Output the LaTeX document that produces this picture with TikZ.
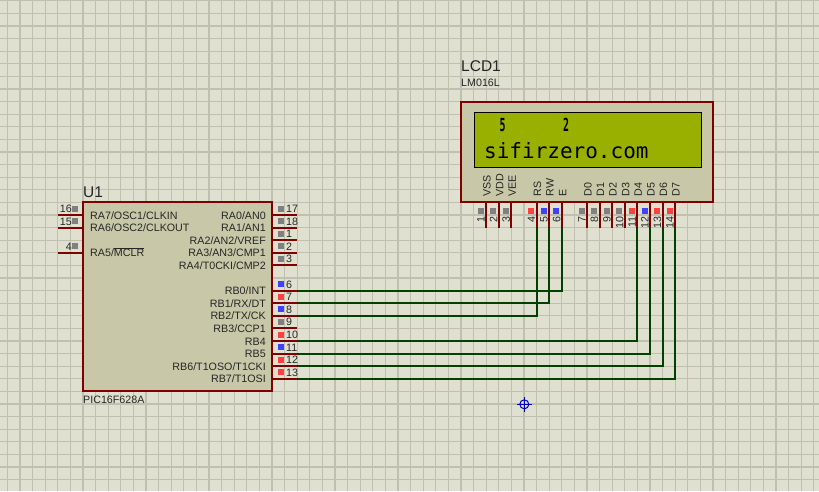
\documentclass[tikz,border=0pt]{standalone}
\usepackage{fontspec}
\setmainfont{Liberation Sans}
\newfontfamily\lcdfont{DejaVu Sans Mono}
\definecolor{sheet}{HTML}{E0E0D0}
\definecolor{gridline}{HTML}{C0C0B0}
\definecolor{body}{HTML}{C8C8A8}
\definecolor{pinline}{HTML}{800000}
\definecolor{wireline}{HTML}{004000}
\definecolor{lcdgreen}{HTML}{99B000}
\definecolor{pingrey}{HTML}{808080}
\definecolor{pinred}{HTML}{FF4040}
\definecolor{pinblue}{HTML}{4040FF}
\definecolor{marker}{HTML}{0000C0}
\def\pinfont{\fontsize{10.7}{12}\selectfont}
\def\namefont{\fontsize{15.5}{16}\selectfont}
\tikzstyle{part}=[draw=pinline,fill=body,line width=2pt,rectangle,inner sep=0pt]
\tikzstyle{screen}=[draw=black,fill=lcdgreen,line width=1pt,rectangle,inner sep=0pt]
\tikzstyle{pin}=[draw=pinline,line width=2pt]
\tikzstyle{wire}=[draw=wireline,line width=2pt]
\tikzstyle{txt}=[inner sep=0pt,font=\pinfont,text=black!85]
\tikzstyle{dot}=[rectangle,minimum size=6pt,inner sep=0pt]
\tikzstyle{glyph}=[inner sep=0pt,anchor=base,font=\lcdfont\bfseries\fontsize{18}{18}\selectfont,xscale=0.55,transform shape]
\begin{document}
\begin{tikzpicture}[x=1pt,y=-1pt]
  \useasboundingbox (0,0) rectangle (819,491);
  \fill[sheet] (0,0) rectangle (819,491);

  % sheet grid
  \foreach \k in {-1,...,63}{
    \draw[gridline,line width=1.2pt] ({20+12.6*\k},0) -- ({20+12.6*\k},491);
  }
  \foreach \k in {-2,...,36}{
    \draw[gridline,line width=1.2pt] (0,{26+12.6*\k}) -- (819,{26+12.6*\k});
  }
  \foreach \x in {20,272,524,776}{
    \draw[gridline,line width=2.2pt] (\x,0) -- (\x,491);
  }
  \foreach \y in {26,278}{
    \draw[gridline,line width=2.2pt] (0,\y) -- (819,\y);
  }

  % the two parts
  \node[part,minimum width=189pt,minimum height=189pt] (pic) at (177.5,296.9) {};
  \node[part,minimum width=252pt,minimum height=100pt] (lcd) at (587,152) {};
  \node[screen,minimum width=227.5pt,minimum height=55pt] (scr) at (588,139.8) {};

  \node[txt,font=\namefont,anchor=base west] (picname) at (83,197) {U1};
  \node[txt,anchor=base west] (pictype) at (83,403) {PIC16F628A};
  \node[txt,font=\namefont,anchor=base west] (lcdname) at (461,71) {LCD1};
  \node[txt,anchor=base west] (lcdtype) at (461,86) {LM016L};

  % left pins of the chip
  \foreach \y/\n/\t in {215/16/{RA7/OSC1/CLKIN},227.6/15/{RA6/OSC2/CLKOUT},252.8/4/{RA5/$\overline{\mbox{MCLR}}$}}{
    \coordinate (u\n) at (57.8,\y);
    \draw[pin] (u\n) -- (pic.west |- u\n);
    \node[dot,fill=pingrey] (ud\n) at (75,\y-6.5) {};
    \node[txt,anchor=base east] (un\n) at (72,\y-2.5) {\n};
    \node[txt,anchor=base west] (ul\n) at (90,\y+4) {\t};
  }

  % right pins of the chip
  \foreach \y/\n/\c/\t in {215/17/pingrey/{RA0/AN0},227.6/18/pingrey/{RA1/AN1},240.2/1/pingrey/{RA2/AN2/VREF},252.8/2/pingrey/{RA3/AN3/CMP1},265.4/3/pingrey/{RA4/T0CKI/CMP2},290.6/6/pinblue/{RB0/INT},303.2/7/pinred/{RB1/RX/DT},315.8/8/pinblue/{RB2/TX/CK},328.4/9/pingrey/{RB3/CCP1},341/10/pinred/{RB4},353.6/11/pinblue/{RB5},366.2/12/pinred/{RB6/T1OSO/T1CKI},378.8/13/pinred/{RB7/T1OSI}}{
    \coordinate (u\n) at (297.2,\y);
    \draw[pin] (u\n) -- (pic.east |- u\n);
    \node[dot,fill=\c] (ud\n) at (280.5,\y-6.5) {};
    \node[txt,anchor=base west] (un\n) at (286,\y-2.5) {\n};
    \node[txt,anchor=base east] (ul\n) at (266,\y+4) {\t};
  }

  % pins of the display
  \foreach \x/\n/\c/\t in {486.2/1/pingrey/VSS,498.8/2/pingrey/VDD,511.4/3/pingrey/VEE,536.6/4/pinred/RS,549.2/5/pinblue/RW,561.8/6/pinblue/E,587/7/pingrey/D0,599.6/8/pingrey/D1,612.2/9/pingrey/D2,624.8/10/pingrey/D3,637.4/11/pinred/D4,650/12/pinblue/D5,662.6/13/pinred/D6,675.2/14/pinred/D7}{
    \coordinate (l\n) at (\x,227.6);
    \draw[pin] (l\n) -- (lcd.south -| l\n);
    \node[dot,fill=\c] (ld\n) at (\x-5.5,210.7) {};
    \node[txt,rotate=90,anchor=base east] (ln\n) at (\x-1.5,216) {\n};
    \node[txt,rotate=90,anchor=base west] (ll\n) at (\x+4.5,196.5) {\t};
  }

  % wires
  \foreach \a/\b in {6/6,7/5,8/4,10/11,11/12,12/13,13/14}{
    \draw[wire] (u\a) -| (l\b);
  }

  % text on the screen
  \node[inner sep=0pt,anchor=base west,font=\lcdfont\fontsize{21}{21}\selectfont] (line2) at (484,158) {sifirzero.com};
  \node[glyph] (ch1) at (502.5,131) {5};
  \node[glyph] (ch2) at (566,131) {2};

  % origin marker
  \node[draw=marker,circle,line width=1pt,minimum size=9pt,inner sep=0pt] (origin) at (524.3,404.3) {};
  \draw[marker,line width=1pt] (517,404.3) -- (531.6,404.3);
  \draw[marker,line width=1pt] (524.3,397) -- (524.3,411.6);
\end{tikzpicture}
\end{document}
